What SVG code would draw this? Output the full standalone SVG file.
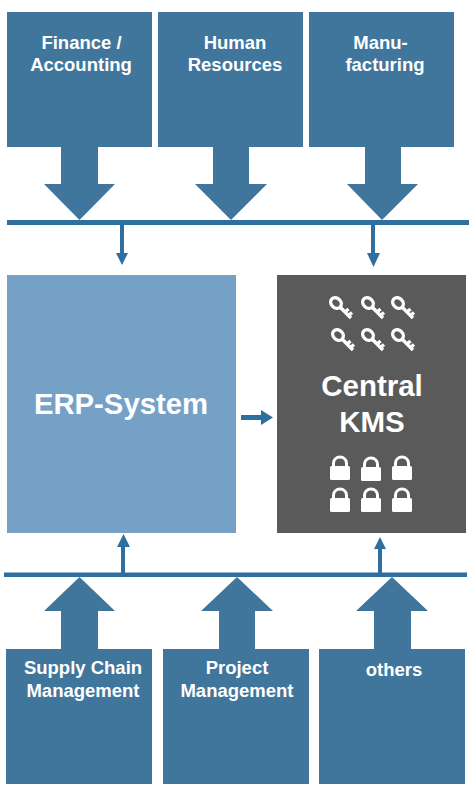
<svg xmlns="http://www.w3.org/2000/svg" width="474" height="795" viewBox="0 0 474 795">
<style>
.b{fill:#41769c}
.l{fill:#2f6f9f}
text{font-family:"Liberation Sans",Arial,sans-serif;font-weight:700;fill:#fff;text-anchor:middle}
.s{font-size:18.5px}
.k{fill:none;stroke:#fff;stroke-width:3.4}
.p{fill:#fff}
.a{fill:none;stroke:#fff;stroke-width:3}
</style>
<defs>
<g id="key"><ellipse cx="-5" cy="-5" rx="5.800" ry="4.800" transform="rotate(45 -5 -5)" class="k"/><path d="M-1-1 10 10M4 4 7.500 1M7.500 7.500 11 4.500" class="k"/></g>
<g id="lock"><path d="M-6.500-1V-4A6.500 6 0 0 1 6.500-4V-1" class="a"/><rect x="-10" y="-1" width="20" height="14" rx="1.500" class="p"/></g>
</defs>
<g id="finance"><rect class="b" x="7" y="12" width="145" height="135"/><path class="b" d="M61 147H98V184H115L79.500 220 44 184H61Z"/><text class="s" x="81.500" y="48.500">Finance /</text><text class="s" x="81" y="70.500">Accounting</text></g>
<g id="hr"><rect class="b" x="158" y="12" width="145" height="135"/><path class="b" d="M213 147H249V184H267L231 220 195 184H213Z"/><text class="s" x="235" y="48.500">Human</text><text class="s" x="235" y="70.500">Resources</text></g>
<g id="manufacturing"><rect class="b" x="309" y="12" width="145" height="135"/><path class="b" d="M365 147H401V184H418L382 220 347 184H365Z"/><text class="s" x="380.500" y="48.500">Manu-</text><text class="s" x="385" y="70.500">facturing</text></g>
<g id="connectors">
<rect class="l" x="7" y="220" width="462" height="5"/>
<rect class="l" x="4" y="572.500" width="463" height="4.500"/>
<path class="l" d="M120 224H124V253H128L122 265 116 253H120Z"/>
<path class="l" d="M371 224H375V253H380L373.500 267 367 253H371Z"/>
<path class="l" d="M121 574H125V547H130L123.500 534 117 547H121Z"/>
<path class="l" d="M378 574H382V549H386L380 537 374 549H378Z"/>
<path class="l" d="M241 415H261V410L273 417.500 261 425V420H241Z"/>
</g>
<g id="erp"><rect x="7" y="275" width="229" height="258" fill="#75a1c6"/><text x="121" y="414" font-size="29.300px">ERP-System</text></g>
<g id="kms"><rect x="277" y="275" width="189" height="258" fill="#5a5a5a"/>
<use href="#key" x="341" y="308"/><use href="#key" x="373" y="308"/><use href="#key" x="403" y="308"/>
<use href="#key" x="343" y="340"/><use href="#key" x="373" y="340"/><use href="#key" x="403" y="340"/>
<text x="372" y="396" font-size="29.500px">Central</text><text x="372" y="432" font-size="29.500px">KMS</text>
<use href="#lock" x="340" y="467"/><use href="#lock" x="371" y="468"/><use href="#lock" x="402" y="467"/>
<use href="#lock" x="340" y="499"/><use href="#lock" x="371" y="499"/><use href="#lock" x="402" y="499"/>
</g>
<g id="scm"><rect class="b" x="6" y="649" width="146" height="135"/><path class="b" d="M61 649H98V611H115L79.500 577 44 611H61Z"/><text class="s" x="83" y="674">Supply Chain</text><text class="s" x="83" y="697">Management</text></g>
<g id="pm"><rect class="b" x="163" y="649" width="146" height="135"/><path class="b" d="M219 649H255V611H273L237 577 201 611H219Z"/><text class="s" x="237" y="674">Project</text><text class="s" x="237" y="697">Management</text></g>
<g id="others"><rect class="b" x="319" y="649" width="146" height="135"/><path class="b" d="M374 649H411V611H428L392 577 356 611H374Z"/><text class="s" x="394" y="676">others</text></g>
</svg>
